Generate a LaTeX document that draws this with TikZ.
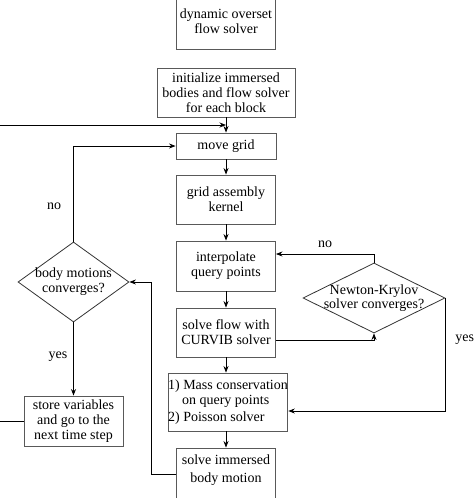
\documentclass[tikz,border=0pt]{standalone}
\usepackage{fontspec}
\setmainfont{Liberation Serif}
\usetikzlibrary{positioning,shapes.geometric,calc,arrows.meta}
\tikzset{%
	block/.style={
		rectangle,
		draw=black!65,
		line width=0.9pt,
		align=center,
		inner sep=1pt,
		font=\fontsize{14}{15}\selectfont
	},
	decision/.style={
		diamond,
		draw=black!80,
		line width=0.8pt,
		inner sep=0pt
	},
	decision-text/.style={
		align=center,
		inner sep=0pt,
		font=\fontsize{14}{15}\selectfont
	},
	flow-label/.style={ inner sep=0pt, font=\fontsize{14}{15}\selectfont },
}

\begin{document}
\begin{tikzpicture}[x=1pt, y=-1pt, >={Stealth[length=6.5pt,width=5pt]}, line width=0.8pt]
\useasboundingbox (0,0) rectangle (474,498);

% main column
\node[block, minimum width=99, minimum height=56] (overset) at (226,21) {dynamic overset\\flow solver};
\node[block, minimum width=138, minimum height=49] (init) at (226,92.5) {initialize immersed\\bodies and flow solver\\for each block};
\node[block, minimum width=100, minimum height=26] (move) at (226,146) {move grid};
\node[block, minimum width=99, minimum height=49] (assembly) at (226,199.5) {grid assembly\\kernel};
\node[block, minimum width=99, minimum height=50] (interp) at (226,266) {interpolate\\query points};
\node[block, minimum width=99, minimum height=49] (flow) at (226,332.5) {solve flow with\\CURVIB solver};
\node[block, minimum width=118, minimum height=58, align=left, inner sep=0pt] (mass) at (228,402) {1) Mass conservation\\\hspace{1em}on query points\\[2pt]2) Poisson solver};
\node[block, minimum width=99, minimum height=60, font=\fontsize{14}{18}\selectfont] (immersed) at (226,478) {solve immersed\\body motion\\\mbox{}};

% decisions
\node[decision, minimum width=111, minimum height=80] (body) at (73.5,282) {};
\node[decision-text] (body-text) at (body) {body motions\\converges?};
\node[decision, minimum width=142, minimum height=70] (nk) at (374,298) {};
\node[decision-text, font=\fontsize{14}{11.5}\selectfont] (nk-text) at (nk) {Newton-Krylov\\solver converges?};
\node[block, minimum width=99, minimum height=50] (store) at (73.5,421) {store variables\\and go to the\\next time step};

% connections
\coordinate (join) at ($(init.south)!0.5!(move.north)$);
\draw[->] (init) -- (move);
\draw[->] (store.west) -- ++(-40,0) |- (join);
\draw[->] (move) -- (assembly);
\draw[->] (assembly) -- (interp);
\draw[->] (interp) -- (flow);
\draw[->] (flow.south) -- (flow.south |- mass.north);
\draw[->] (immersed.north |- mass.south) -- (immersed.north);
\draw[->] (body.north) |- (move.west);
\draw[->] (body.south) -- (store.north);
\draw[->] ([yshift=4pt]immersed.west) -- ++(-25,0) |- (body.east);
\draw[->] (nk.north) |- ([yshift=12pt]interp.east);
\draw[->] ([yshift=-7.5pt]flow.east) -| (nk.south);
\draw[->] (nk.east) |- ([yshift=-9pt]mass.east);

% branch labels
\node[flow-label] (body-no) at (54,206) {no};
\node[flow-label] (body-yes) at (58,357) {yes};
\node[flow-label] (nk-no) at (325,244) {no};
\node[flow-label, anchor=west] (nk-yes) at (455,340) {yes};

\end{tikzpicture}
\end{document}
